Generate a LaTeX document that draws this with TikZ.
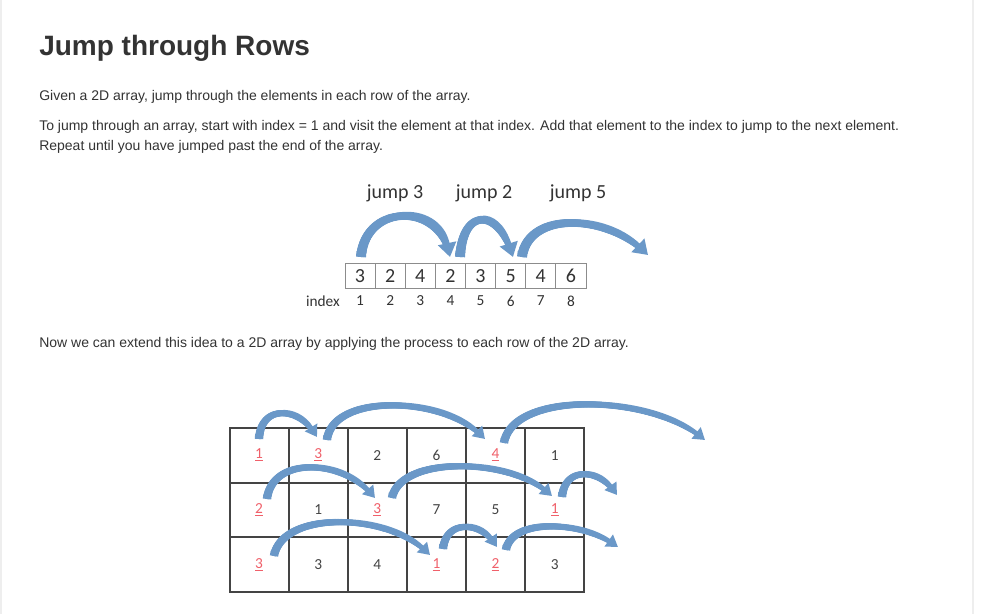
\documentclass[tikz,border=0pt]{standalone}
\usepackage{fontspec}
\setmainfont{Liberation Sans}
\newfontfamily\calib{Carlito}
\usetikzlibrary{arrows.meta,decorations.markings}
\definecolor{bodyc}{HTML}{333333}
\definecolor{gridc}{HTML}{444444}
\definecolor{cellc}{HTML}{8C8C8C}
\definecolor{redn}{HTML}{F0606A}
\definecolor{jumpc}{HTML}{6A98C8}
\definecolor{edgec}{HTML}{EEEEEE}
\tikzset{
  para/.style={anchor=base west, inner sep=0, text=bodyc, font=\fontsize{10.5pt}{12pt}\selectfont},
  titletext/.style={anchor=base west, inner sep=0, text=bodyc, font=\fontsize{21pt}{24pt}\selectfont\bfseries},
  cell/.style={draw=gridc, line width=1.5pt, minimum width=44.35pt, minimum height=41.15pt, inner sep=0,
     text=gridc, font=\calib\fontsize{11.5pt}{13pt}\selectfont},
  redcell/.style={cell, text=redn},
  acell/.style={draw=cellc, line width=0.6pt, minimum width=22.6pt, minimum height=18.75pt, inner sep=0,
     text=black!80, font=\calib\fontsize{15pt}{17pt}\selectfont},
  idx/.style={inner sep=0, text=black!80, font=\calib\fontsize{11.5pt}{13pt}\selectfont},
  jlabel/.style={inner sep=0, text=black!80, font=\calib\fontsize{15pt}{17pt}\selectfont},
  taper/.style n args={3}{postaction={decorate, decoration={markings,
     mark=at position 0 with {\fill[jumpc] (0pt,-#1pt/2) rectangle (#1pt/2+0.3pt,#1pt/2);},
     mark=between positions #1pt/2 and -#3 step 0.6pt with {%
       \pgfmathsetmacro\rr{(#1-(#1-#2)*\pgfkeysvalueof{/pgf/decoration/mark info/distance from start}/\pgfdecoratedpathlength)/2}%
       \fill[jumpc] (0pt,0pt) circle[radius=\rr pt];}}}},
  bigjump/.style={draw=jumpc, line width=3.75pt, -{Triangle[width=13.5pt,length=10.5pt]}, taper={7.5}{3.75}{10.5pt}},
  jump/.style={draw=jumpc, line width=3pt, -{Triangle[width=10.5pt,length=8.5pt]}, taper={6.3}{3}{8.5pt}},
}
\begin{document}
\begin{tikzpicture}[x=0.75pt,y=-0.75pt]
\useasboundingbox (0,0) rectangle (989,614);
\fill[white] (0,0) rectangle (989,614);
\draw[edgec, line width=1.5pt] (972.5,0) -- (972.5,614);
\draw[edgec, line width=1.5pt] (1,0) -- (1,614);

\node[titletext] (title) at (39,55) {Jump through Rows};
\node[para] (p1) at (39,100) {Given a 2D array, jump through the elements in each row of the array.};
\node[para] (p2) at (39,130) {To jump through an array, start with index = 1 and visit the element at that index. Add that element to the index to jump to the next element.};
\node[para] (p3) at (39,150) {Repeat until you have jumped past the end of the array.};
\node[para] (p4) at (39,347) {Now we can extend this idea to a 2D array by applying the process to each row of the 2D array.};

% 1D array
\foreach \v [count=\i] in {3,2,4,2,3,5,4,6}{
  \node[acell] (a\i) at ({345+15.06+30.125*(\i-1)},275.8) {\v};
  \node[idx] (i\i) at ({345+15.06+30.125*(\i-1)},301) {\i};
}
\node[idx, anchor=east] (indexlbl) at (340,301) {index};
\node[jlabel] (j3) at (395,193) {jump 3};
\node[jlabel] (j2) at (484,193) {jump 2};
\node[jlabel] (j5) at (578,193) {jump 5};

\coordinate (A1t) at (361,257); \coordinate (A1h) at (450,257);
\coordinate (A2t) at (460,257); \coordinate (A2h) at (513,257);
\coordinate (A3t) at (522,257); \coordinate (A3h) at (648,255);
\draw[bigjump] (A1t) .. controls +(4,-53) and +(-12,-56) .. (A1h);
\draw[bigjump] (A2t) .. controls +(3,-49) and +(-16,-50) .. (A2h);
\draw[bigjump] (A3t) .. controls +(6,-45) and +(-45,-43) .. (A3h);

% 2D grid
\foreach \row [count=\r] in {{1/r,3/r,2/n,6/n,4/r,1/n},{2/r,1/n,3/r,7/n,5/n,1/r},{3/r,3/n,4/n,1/r,2/r,3/n}}{
  \foreach \v/\k [count=\c] in \row {
    \if r\k
      \node[redcell] (g\r\c) at ({229.5+29.57+59.13*(\c-1)},{427.7+27.43+54.87*(\r-1)}) {\underline{\v}};
    \else
      \node[cell] (g\r\c) at ({229.5+29.57+59.13*(\c-1)},{427.7+27.43+54.87*(\r-1)}) {\v};
    \fi
  }
}

\coordinate (R1at) at (259,439); \coordinate (R1ah) at (317,437);
\coordinate (R1bt) at (327,440); \coordinate (R1bh) at (485,439);
\coordinate (R1ct) at (504,443); \coordinate (R1ch) at (705,440);
\coordinate (R2at) at (267,499); \coordinate (R2ah) at (375,498);
\coordinate (R2bt) at (392,498); \coordinate (R2bh) at (552,496);
\coordinate (R2ct) at (562,497); \coordinate (R2ch) at (617,495);
\coordinate (R3at) at (274,556); \coordinate (R3ah) at (430,555);
\coordinate (R3bt) at (443,549); \coordinate (R3bh) at (497,547);
\coordinate (R3ct) at (506,550); \coordinate (R3ch) at (618,547);

\draw[jump] (R1at) .. controls +(2,-34) and +(-20,-32) .. (R1ah);
\draw[jump] (R1bt) .. controls +(5,-46) and +(-45,-45) .. (R1bh);
\draw[jump] (R1ct) .. controls +(8,-51) and +(-60,-48) .. (R1ch);
\draw[jump] (R2at) .. controls +(5,-42) and +(-35,-41) .. (R2ah);
\draw[jump] (R2bt) .. controls +(8,-42) and +(-45,-40) .. (R2bh);
\draw[jump] (R2ct) .. controls +(3,-30) and +(-20,-28) .. (R2ch);
\draw[jump] (R3at) .. controls +(8,-45) and +(-45,-44) .. (R3ah);
\draw[jump] (R3bt) .. controls +(3,-29) and +(-18,-27) .. (R3bh);
\draw[jump] (R3ct) .. controls +(5,-31) and +(-40,-28) .. (R3ch);
\end{tikzpicture}
\end{document}
